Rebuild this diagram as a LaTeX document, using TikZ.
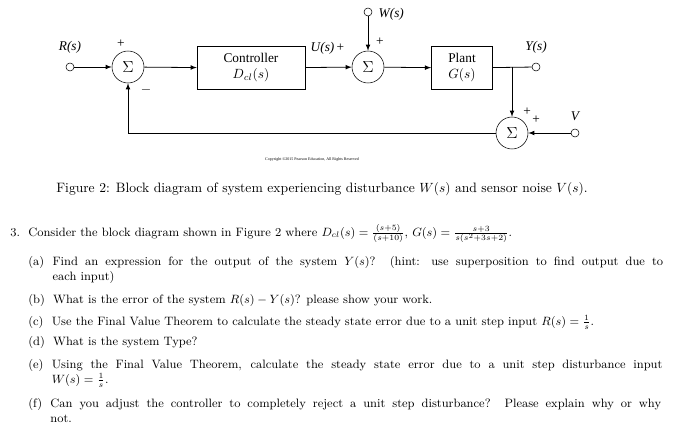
\documentclass[tikz,border=0pt]{standalone}
\usepackage{amsmath}
\usepackage{fontspec}
\newfontfamily\dgm{Liberation Serif}
\begin{document}
\begin{tikzpicture}[x=0.75pt,y=-0.75pt,
  sum/.style={circle,draw,minimum size=24,inner sep=0,font=\dgm\large},
  blk/.style={draw,rectangle,align=center,font=\dgm},
  term/.style={circle,draw,minimum size=6,inner sep=0},
  lab/.style={font=\dgm\itshape},
  ar/.style={-latex,line width=0.6pt},
  ln/.style={line width=0.6pt},
  txt/.style={anchor=north west,align=left,inner sep=0,font=\fontsize{9.1}{11.5}\selectfont}]
\useasboundingbox (0,0) rectangle (680,434);
\node[term] (R) at (70,67) {};
\node[sum] (S1) at (128,67) {$\Sigma$};
\node[blk,minimum width=81,minimum height=32] (C) at (251,68) {Controller\\$D_{cl}(s)$};
\node[sum] (S2) at (368,67) {$\Sigma$};
\node[term] (W) at (368,12) {};
\node[blk,minimum width=46,minimum height=32] (P) at (462,68) {Plant\\$G(s)$};
\node[term] (Y) at (536,67) {};
\coordinate (B) at (512,67);
\node[sum] (S3) at (512,133) {$\Sigma$};
\node[term] (V) at (575,133) {};
\coordinate (F) at (128,133);
\draw[ar] (R) -- (S1);
\draw[ar] (S1) -- (C);
\draw[ar] (C) -- (S2);
\draw[ar] (W) -- (S2);
\draw[ar] (S2) -- (P);
\draw[ln] (P) -- (Y);
\draw[ar] (B) -- (S3);
\draw[ar] (V) -- (S3);
\draw[ar] (S3) -- (F) -- (S1);
\node[lab] (lR) at (70,47) {R(s)};
\node[font=\dgm] (p1) at (121,44) {+};
\node[font=\dgm] (m1) at (146,90) {$-$};
\node[lab,anchor=west] (lU) at (306,48) {U(s)\,\upshape +};
\node[lab,anchor=west] (lW) at (374,14) {W(s)};
\node[font=\dgm] (p2) at (380,42) {+};
\node[lab] (lY) at (536,47) {Y(s)};
\node[font=\dgm] (p3) at (527,112) {+};
\node[font=\dgm] (p4) at (536,120) {+};
\node[lab] (lV) at (575,116) {V};
\node[font=\dgm\fontsize{3}{3}\selectfont] (cp) at (312,160) {Copyright \textcopyright 2015 Pearson Education, All Rights Reserved};
\node[txt,anchor=north,font=\fontsize{10.2}{12}\selectfont] (cap) at (322,182) {Figure 2: Block diagram of system experiencing disturbance $W(s)$ and sensor noise $V(s)$.};
\node[txt] (q3) at (10,224) {3.\ \ Consider the block diagram shown in Figure 2 where $D_{cl}(s)=\frac{(s+5)}{(s+10)}$, $G(s)=\frac{s+3}{s(s^2+3s+2)}$.};
\node[txt] (a) at (28,256) {(a)\ \ \parbox[t]{458pt}{Find an expression for the output of the system $Y(s)$? (hint: use superposition to find output due to\linebreak each input)}};
\node[txt] (b) at (28,294) {(b)\ \ What is the error of the system $R(s)-Y(s)$? please show your work.};
\node[txt] (c) at (28,315) {(c)\ \ Use the Final Value Theorem to calculate the steady state error due to a unit step input $R(s)=\frac{1}{s}$.};
\node[txt] (d) at (28,336) {(d)\ \ What is the system Type?};
\node[txt] (e) at (28,359) {(e)\ \ \parbox[t]{458pt}{Using the Final Value Theorem, calculate the steady state error due to a unit step disturbance input\linebreak $W(s)=\frac{1}{s}$.}};
\node[txt] (f) at (28,398) {(f)\ \ \parbox[t]{458pt}{Can you adjust the controller to completely reject a unit step disturbance? Please explain why or why\linebreak not.}};
\end{tikzpicture}
\end{document}
